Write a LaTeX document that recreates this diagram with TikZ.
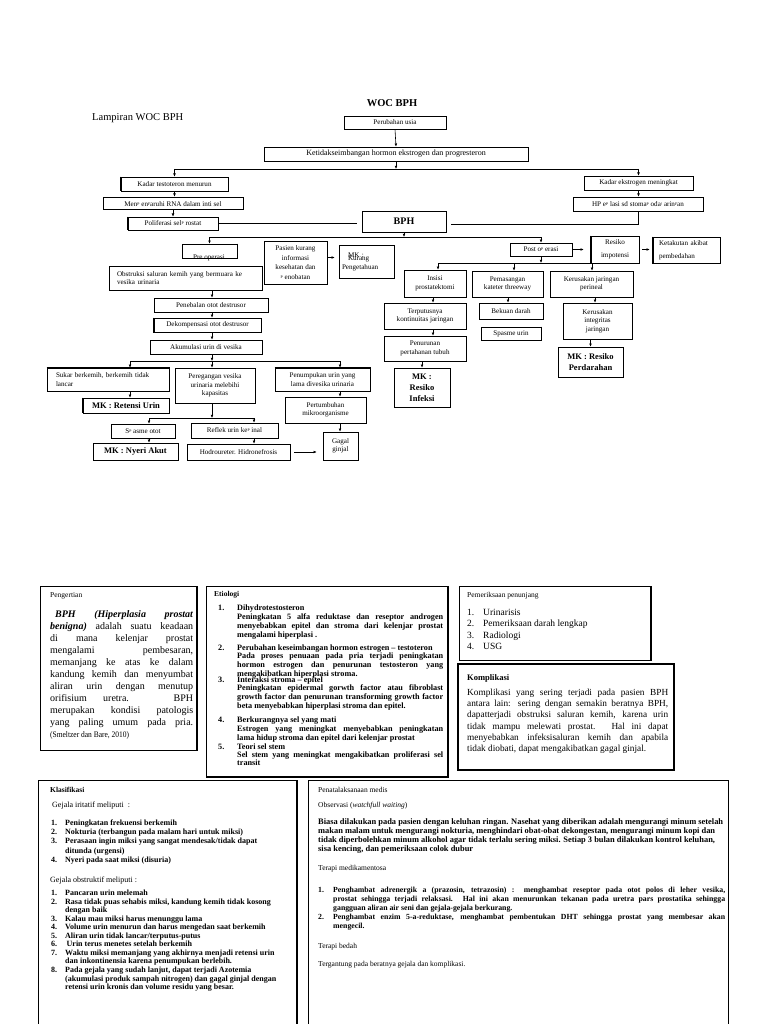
\documentclass[tikz,border=0pt]{standalone}
\usepackage{fontspec}
\setmainfont{Liberation Serif}
\usepackage{graphicx}
\usetikzlibrary{arrows.meta}
\newcommand\fz[2]{\fontsize{#1}{#2}\selectfont}
\newcommand\gl[1]{\raisebox{0.4ex}{\scalebox{0.55}{#1}}}
\newcommand\JJ[1]{\makebox[\linewidth][s]{#1}\par}
\newcommand\LL[1]{\mbox{#1}\par}
\newcommand\NJ[3]{\makebox[#1][l]{#2}\makebox[\dimexpr\linewidth-#1\relax][s]{#3}\par}
\newcommand\NL[3]{\makebox[#1][l]{#2}#3\par}
\newcommand\CJ[2]{\hspace*{#1}\makebox[\dimexpr\linewidth-#1\relax][s]{#2}\par}
\newcommand\CL[2]{\hspace*{#1}#2\par}
\newcommand\blk[4]{\parbox[t]{#1}{\fz{#2}{#3}\lineskiplimit=-30pt\lineskip=0pt\relax#4}}
\begin{document}
\begin{tikzpicture}[x=1pt,y=-1pt,
 bx/.style={draw, line width=0.6pt, inner sep=1pt, align=center, font=\fz{7.1}{8.4}},
 mk/.style={bx, font=\bfseries\fz{8.5}{11}},
 arr/.style={line width=0.6pt, -{Latex[length=3.2pt,width=2.8pt]}},
 ln/.style={line width=0.6pt},
 thk/.style={line width=1.3pt},
 txt/.style={inner sep=0pt, anchor=base west},
 frm/.style={draw, line width=0.8pt}]
\useasboundingbox[fill=white] (0,0) rectangle (768,1024);

% ---------- titles
\node[font=\bfseries\fz{10.5}{12}] (title) at (392,103) {WOC BPH};
\node[txt, font=\fz{10.5}{12}] (lamp) at (92,120.5) {Lampiran WOC BPH};

% ---------- flowchart boxes
\node[bx, minimum width=102pt, minimum height=13pt] (per) at (395,122.5) {Perubahan usia};
\node[bx, font=\fz{8}{9}, minimum width=264pt, minimum height=14pt] (ket) at (396,154) {Ketidakseimbangan hormon ekstrogen dan progresteron};
\node[bx, minimum width=107pt, minimum height=14pt] (kt) at (174.5,184) {Kadar testoteron menurun};
\node[bx, minimum width=109pt, minimum height=14pt] (ke) at (638.5,183) {Kadar ekstrogen meningkat};
\node[bx, minimum width=140pt, minimum height=12pt, text height=8pt, text depth=0pt] (mp) at (173,203) {Men\gl{P} en\gl{F}aruhi RNA dalam inti sel};
\node[bx, minimum width=130pt, minimum height=14pt] (hp) at (638,204) {HP e\gl{P} lasi sd stoma\gl{P} oda\gl{!} arin\gl{F}an};
\node[bx, minimum width=90pt, minimum height=13pt] (pol) at (173,223.5) {Poliferasi sel\gl{P} rostat};
\node[bx, font=\bfseries\fz{10}{12}, minimum width=84pt, minimum height=21pt] (bph) at (404,221.5) {BPH};

\node[bx, minimum width=55pt, minimum height=14pt] (pre) at (209.5,251) {};
\node[inner sep=0pt, font=\fz{7.1}{8.4}] (pretx) at (209,258) {Pre operasi};
\node[bx, align=left, text width=137pt, inner xsep=8pt, minimum height=24pt] (obs) at (185.5,278) {Obstruksi saluran kemih yang bermuara ke\\vesika urinaria};
\node[bx, minimum width=63pt, minimum height=43pt, font=\fz{7.1}{9.8}] (pas) at (295.5,262.5) {Pasien kurang\\informasi\\kesehatan dan\\\gl{P} enobatan};
\node[bx, align=left, text width=49pt, inner xsep=3pt, minimum height=33pt] (mkk) at (366.5,261.5) {\hspace*{6pt}\rlap{\raisebox{3.5pt}{MK :}}Kurang\\Pengetahuan};
\node[bx, minimum width=114pt, minimum height=14pt] (pen) at (211,305) {Penebalan otot destrusor};
\node[bx, minimum width=107pt, minimum height=14pt] (dek) at (207.5,325) {Dekompensasi otot destrusor};
\node[bx, minimum width=112pt, minimum height=14pt] (aku) at (206,347) {Akumulasi urin di vesika};
\node[bx, align=left, text width=104pt, inner xsep=9pt, minimum height=23pt] (suk) at (108,379.5) {Sukar berkemih, berkemih tidak\\lancar};
\node[mk, minimum width=86pt, minimum height=15pt] (mkr) at (126,405.5) {MK : Retensi Urin};
\node[bx, minimum width=80pt, minimum height=35pt] (prg) at (215,385.5) {Peregangan vesika\\urinaria melebihi\\kapasitas};
\node[bx, minimum width=95pt, minimum height=23pt] (pnm) at (322.5,379.5) {Penumpukan urin yang\\lama divesika urinaria};
\node[bx, minimum width=81pt, minimum height=26pt] (ptb) at (325.5,410) {Pertumbuhan\\mikroorganisme};
\node[bx, minimum width=64pt, minimum height=14pt] (spa) at (143,431) {S\gl{P} asme otot};
\node[mk, minimum width=85pt, minimum height=17pt] (mkn) at (135.5,451.5) {MK : Nyeri Akut};
\node[bx, minimum width=87pt, minimum height=15pt] (ref) at (234.5,430.5) {Reflek urin ke\gl{P} inal};
\node[bx, minimum width=103pt, minimum height=16pt] (hod) at (238.5,452) {Hodroureter. Hidronefrosis};
\node[bx, minimum width=35pt, minimum height=28pt] (gg) at (340.5,446) {Gagal\\ginjal};

\node[bx, minimum width=62pt, minimum height=13pt] (pos) at (541,249.5) {Post o\gl{P} erasi};
\node[bx, minimum width=48pt, minimum height=27pt] (ri) at (615,249.5) {Resiko\\[5pt]impotensi};
\node[bx, align=left, text width=55pt, inner xsep=6pt, minimum height=26pt] (kak) at (686.5,250) {Ketakutan akibat\\[5pt]pembedahan};
\node[bx, minimum width=62pt, minimum height=27pt] (ins) at (435,283.5) {Insisi\\prostatektomi};
\node[bx, minimum width=82pt, minimum height=26pt] (ter) at (425,316) {Terputusnya\\kontinuitas jaringan};
\node[bx, minimum width=82pt, minimum height=25pt] (pnr) at (425,348.5) {Penurunan\\pertahanan tubuh};
\node[mk, minimum width=56pt, minimum height=39pt] (mki) at (422,387.5) {MK :\\Resiko\\Infeksi};
\node[bx, minimum width=71pt, minimum height=26pt] (pms) at (507.5,284) {Pemasangan\\kateter threeway};
\node[bx, minimum width=64pt, minimum height=16pt] (bek) at (511,311) {Bekuan darah};
\node[bx, minimum width=60pt, minimum height=13pt] (spu) at (511,333.5) {Spasme urin};
\node[bx, minimum width=83pt, minimum height=26pt] (kjp) at (591.5,284) {Kerusakan jaringan\\perineal};
\node[bx, minimum width=69pt, minimum height=36pt] (kin) at (597.5,321) {Kerusakan\\integritas\\jaringan};
\node[mk, minimum width=65pt, minimum height=30pt] (mkp) at (590.5,362) {MK : Resiko\\Perdarahan};

% thick sides
\draw[thk] (kt.north west) -- (kt.south west);
\draw[thk] (pol.north west) -- (pol.south west);
\draw[thk] (pre.north east) -- (pre.south east);
\draw[thk] (dek.north west) -- (dek.south west) -- (dek.south east);
\draw[thk] (suk.north west) -- (suk.north east) -- (suk.south east);
\draw[thk] (mkr.north west) -- (mkr.south west);
\draw[thk] (pnm.north west) -- (pnm.north east) -- (pnm.south east);
\draw[thk] (ri.north west) -- (ri.south west);
\draw[thk] (kak.north west) -- (kak.south west) -- (kak.south east);
\draw[thk] (spu.north east) -- (spu.south east);

% ---------- connectors
\coordinate (j1) at (396,169);
\draw[arr] (per.south) -- (ket.north);
\draw[arr] (ket.south) -- (ket.south |- j1);
\draw[ln] (kt.north |- j1) -- (ke.north |- j1);
\draw[arr] (kt.north |- j1) -- (kt.north);
\draw[arr] (ke.north |- j1) -- (ke.north);
\draw[arr] (kt.south) -- (kt.south |- mp.north);
\draw[arr] (mp.south) -- (mp.south |- pol.north);
\draw[arr] (ke.south) -- (ke.south |- hp.north);
\draw[ln, shorten >=5pt] (pol.east) -- (pol.east -| bph.west);
\draw[ln] (hp.south) |- ([xshift=5pt,yshift=-2.5pt]bph.east);

\coordinate (j2) at (404,237);
\draw[arr] (bph.south) -- (j2);
\draw[ln] (pre.north |- j2) -- (pos.north |- j2);
\draw[arr] (pre.north |- j2) -- (pre.north);
\draw[arr] (pos.north |- j2) -- (pos.north);
\draw[arr, shorten <=1pt, shorten >=4pt] ([yshift=5pt]pas.east) -- ([yshift=5pt]pas.east -| mkk.west);

\coordinate (sp) at (212,0);
\draw[arr] (obs.south -| sp) -- (pen.north -| sp);
\draw[arr] (pen.south -| sp) -- (dek.north -| sp);
\draw[arr] (dek.south -| sp) -- (aku.north -| sp);
\coordinate (j3) at (212,361);
\coordinate (b1) at (130,361);
\coordinate (b3) at (340,361);
\draw[arr] (aku.south -| sp) -- (j3);
\draw[ln] (b1) -- (b3);
\draw[arr] (b1) -- (b1 |- suk.north);
\draw[arr] (j3) -- (j3 |- prg.north);
\draw[arr] (b3) -- (b3 |- pnm.north);
\draw[arr] (suk.south -| b1) -- (mkr.north -| b1);
\draw[arr] (pnm.south -| b3) -- (ptb.north -| b3);
\draw[arr] (ptb.south -| b3) -- (gg.north -| b3);
\coordinate (j4) at (212,418);
\coordinate (b4) at (149,418);
\coordinate (b5) at (254,418);
\draw[arr] (prg.south -| j4) -- (j4);
\draw[ln] (b4) -- (b5);
\draw[arr] (b4) -- (b4 |- spa.north);
\draw[arr] (b5) -- (b5 |- ref.north);
\draw[arr] (spa.south -| b4) -- (mkn.north -| b4);
\draw[arr] (ref.south -| b5) -- (hod.north -| b5);
\draw[arr, shorten <=4pt, shorten >=6pt] (hod.east) -- (hod.east -| gg.west);

\draw[arr, shorten >=7pt] (pos.east) -- (pos.east -| ri.west);
\draw[arr, shorten <=3pt, shorten >=3pt] (ri.east) -- (ri.east -| kak.west);
\coordinate (j5) at (541,263);
\coordinate (b6) at (438,263);
\coordinate (b7) at (514,263);
\coordinate (b8) at (592,263);
\draw[arr] (pos.south) -- (j5);
\draw[ln] (b6) -- (b8);
\draw[arr] (b6) -- (b6 |- ins.north);
\draw[arr] (b7) -- (b7 |- pms.north);
\draw[arr] (b8) -- (b8 |- kjp.north);
\coordinate (sr) at (433,0);
\draw[arr] (ins.south -| sr) -- (ter.north -| sr);
\draw[arr] (ter.south -| sr) -- (pnr.north -| sr);
\draw[arr] (pnr.south -| mki.north) -- (mki.north);
\coordinate (sm) at (508,0);
\draw[arr] (pms.south -| sm) -- (bek.north -| sm);
\coordinate (sk) at (595,0);
\draw[arr] (kjp.south -| sk) -- (kin.north -| sk);
\draw[arr] (kin.south -| mkp.north) -- (mkp.north);

% ---------- bottom frames
\draw[frm] (40,586) rectangle (197,750); \draw[thk] (197,586) -- (197,750);
\draw[frm] (206,586) rectangle (448,777); \draw[thk] (448,586) -- (448,777) -- (206,777);
\draw[frm] (459,586) rectangle (651,660); \draw[thk] (651,586) -- (651,660);
\draw[line width=1.6pt] (458,664) rectangle (674,770);
\draw[frm] (38,780) rectangle (297,1030); \draw[thk] (297,780) -- (297,1030);
\draw[frm] (308,780) rectangle (728,1030);

% ---------- Pengertian
\node[txt, font=\fz{7.5}{9}] (pgh) at (50,597.5) {Pengertian};
\node[txt] (pgt) at (50,617) {\blk{143pt}{10}{12}{%
\CJ{5pt}{\textbf{\textit{BPH (Hiperplasia}} \textbf{\textit{prostat}}}
\JJ{\textbf{\textit{benigna)}} adalah suatu keadaan}
\JJ{di mana kelenjar prostat}
\JJ{mengalami pembesaran,}
\JJ{memanjang ke atas ke dalam}
\JJ{kandung kemih dan menyumbat}
\JJ{aliran urin dengan menutup}
\JJ{orifisium uretra. BPH}
\JJ{merupakan kondisi patologis}
\JJ{yang paling umum pada pria.}
\LL{\scalebox{0.88}[1]{\fz{8.5}{12}(Smeltzer dan Bare, 2010)}}}};

% ---------- Etiologi
\node[txt, font=\bfseries\fz{7.5}{9}] (eth) at (214,596) {Etiologi};
\node[txt] (et1) at (218,610.5) {\blk{225pt}{8.2}{8.9}{\bfseries
\NL{19pt}{1.}{Dihydrotestosteron}
\CJ{19pt}{Peningkatan 5 alfa reduktase dan reseptor androgen}
\CJ{19pt}{menyebabkan epitel dan stroma dari kelenjar prostat}
\CL{19pt}{mengalami hiperplasi .}}};
\node[txt] (et2) at (218,650) {\blk{225pt}{8.2}{8.9}{\bfseries
\NL{19pt}{2.}{Perubahan keseimbangan hormon estrogen – testoteron}
\CJ{19pt}{Pada proses penuaan pada pria terjadi peningkatan}
\CJ{19pt}{hormon estrogen dan penurunan testosteron yang}
\CL{19pt}{mengakibatkan hiperplasi stroma.}}};
\node[txt] (et3) at (218,682) {\blk{225pt}{8.2}{8.9}{\bfseries
\NL{19pt}{3.}{Interaksi stroma – epitel}
\CJ{19pt}{Peningkatan epidermal gorwth factor atau fibroblast}
\CJ{19pt}{growth factor dan penurunan transforming growth factor}
\CL{19pt}{beta menyebabkan hiperplasi stroma dan epitel.}}};
\node[txt] (et4) at (218,722.5) {\blk{225pt}{8.2}{8.9}{\bfseries
\NL{19pt}{4.}{Berkurangnya sel yang mati}
\CJ{19pt}{Estrogen yang meningkat menyebabkan peningkatan}
\CL{19pt}{lama hidup stroma dan epitel dari kelenjar prostat}}};
\node[txt] (et5) at (218,749) {\blk{225pt}{8.2}{8.4}{\bfseries
\NL{19pt}{5.}{Teori sel stem}
\CJ{19pt}{Sel stem yang meningkat mengakibatkan proliferasi sel}
\CL{19pt}{transit}}};

% ---------- Pemeriksaan penunjang
\node[txt, font=\fz{7.5}{9}] (pph) at (467,597.5) {Pemeriksaan penunjang};
\node[txt] (ppt) at (467,615.5) {\blk{180pt}{9.5}{11.3}{%
\NL{16pt}{1.}{Urinarisis}
\NL{16pt}{2.}{Pemeriksaan darah lengkap}
\NL{16pt}{3.}{Radiologi}
\NL{16pt}{4.}{USG}}};

% ---------- Komplikasi
\node[txt, font=\bfseries\fz{8.5}{10}] (kph) at (467,680) {Komplikasi};
\node[txt] (kpt) at (467,695.5) {\blk{201pt}{9.3}{11.2}{%
\JJ{Komplikasi yang sering terjadi pada pasien BPH}
\JJ{antara lain: sering dengan semakin beratnya BPH,}
\JJ{dapatterjadi obstruksi saluran kemih, karena urin}
\JJ{tidak mampu melewati prostat. Hal ini dapat}
\JJ{menyebabkan infeksisaluran kemih dan apabila}
\LL{tidak diobati, dapat mengakibatkan gagal ginjal.}}};

% ---------- Klasifikasi
\node[txt, font=\bfseries\fz{7.5}{9}] (klh) at (50,792.5) {Klasifikasi};
\node[txt, font=\fz{8}{9}] (kl1h) at (52,807.5) {Gejala iritatif meliputi~ :};
\node[txt] (kl1) at (51,825.5) {\blk{236pt}{8}{9.2}{\bfseries
\NL{14pt}{1.}{Peningkatan frekuensi berkemih}
\NL{14pt}{2.}{Nokturia (terbangun pada malam hari untuk miksi)}
\NL{14pt}{3.}{Perasaan ingin miksi yang sangat mendesak/tidak dapat}
\CL{14pt}{ditunda (urgensi)}
\NL{14pt}{4.}{Nyeri pada saat miksi (disuria)}}};
\node[txt, font=\fz{8}{9}] (kl2h) at (50,882.5) {Gejala obstruktif meliputi :};
\node[txt] (kl2) at (51,895.5) {\blk{236pt}{8}{8.55}{\bfseries
\NL{14pt}{1.}{Pancaran urin melemah}
\NL{14pt}{2.}{Rasa tidak puas sehabis miksi, kandung kemih tidak kosong}
\CL{14pt}{dengan baik}
\NL{14pt}{3.}{Kalau mau miksi harus menunggu lama}
\NL{14pt}{4.}{Volume urin menurun dan harus mengedan saat berkemih}
\NL{14pt}{5.}{Aliran urin tidak lancar/terputus-putus}
\NL{14pt}{6.}{\hspace*{1.5pt}Urin terus menetes setelah berkemih}
\NL{14pt}{7.}{Waktu miksi memanjang yang akhirnya menjadi retensi urin}
\CL{14pt}{dan inkontinensia karena penumpukan berlebih.}
\NL{14pt}{8.}{Pada gejala yang sudah lanjut, dapat terjadi Azotemia}
\CL{14pt}{(akumulasi produk sampah nitrogen) dan gagal ginjal dengan}
\CL{14pt}{retensi urin kronis dan volume residu yang besar.}}};

% ---------- Penatalaksanaan
\node[txt, font=\fz{7.5}{9}] (pth) at (318,792.5) {Penatalaksanaan medis};
\node[txt, font=\fz{7.5}{9}] (pto) at (318,807.5) {Observasi (\textit{watchfull waiting})};
\node[txt] (ptp) at (318,824.5) {\blk{404pt}{8.4}{9}{\bfseries
\LL{Biasa dilakukan pada pasien dengan keluhan ringan. Nasehat yang diberikan adalah mengurangi minum setelah}
\LL{makan malam untuk mengurangi nokturia, menghindari obat-obat dekongestan, mengurangi minum kopi dan}
\LL{tidak diperbolehkan minum alkohol agar tidak terlalu sering miksi. Setiap 3 bulan dilakukan kontrol keluhan,}
\LL{sisa kencing, dan pemeriksaan colok dubur}}};
\node[txt, font=\fz{7.5}{9}] (ptm) at (318,870.5) {Terapi medikamentosa};
\node[txt] (pti) at (318,892.5) {\blk{407pt}{7.8}{9.1}{\bfseries
\NJ{15pt}{1.}{Penghambat adrenergik a (prazosin, tetrazosin) : menghambat reseptor pada otot polos di leher vesika,}
\CJ{15pt}{prostat sehingga terjadi relaksasi. Hal ini akan menurunkan tekanan pada uretra pars prostatika sehingga}
\CL{15pt}{gangguan aliran air seni dan gejala-gejala berkurang.}
\NJ{15pt}{2.}{Penghambat enzim 5-a-reduktase, menghambat pembentukan DHT sehingga prostat yang membesar akan}
\CL{15pt}{mengecil.}}};
\node[txt, font=\fz{7.5}{9}] (ptb2) at (318,948.5) {Terapi bedah};
\node[txt, font=\fz{7.5}{9}] (ptg) at (318,966.5) {Tergantung pada beratnya gejala dan komplikasi.};
\end{tikzpicture}
\end{document}
